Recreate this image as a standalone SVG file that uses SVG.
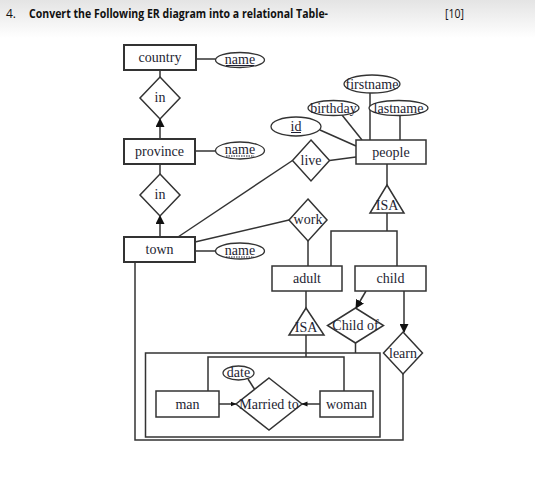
<svg xmlns="http://www.w3.org/2000/svg" width="535" height="484" viewBox="0 0 535 484">
<defs>
<linearGradient id="bg" x1="0" y1="0" x2="0" y2="1">
<stop offset="0" stop-color="#e4e4e4"/>
<stop offset="1" stop-color="#ffffff"/>
</linearGradient>
<marker id="ah" markerUnits="userSpaceOnUse" markerWidth="9" markerHeight="9" refX="8" refY="4.5" orient="auto">
<path d="M0,0 L9,4.5 L0,9 Z" fill="#111"/>
</marker>
<marker id="ahs" markerUnits="userSpaceOnUse" markerWidth="6" markerHeight="6" refX="5.5" refY="3" orient="auto">
<path d="M0,0.5 L6,3 L0,5.5 Z" fill="#111"/>
</marker>
<style>
.box{fill:#fff;stroke:#333;stroke-width:1.5}
.bold{stroke-width:2}
.att{fill:#fff;stroke:#333;stroke-width:1.3}
.rel{fill:#fff;stroke:#333;stroke-width:1.5}
.ln{fill:none;stroke:#333;stroke-width:1.5}
.t{font-family:"Liberation Serif","Times New Roman",serif;font-size:14px;fill:#1e1e32;text-anchor:middle}
.ul{stroke:#1e1e32;stroke-width:1}
.dul{stroke:#1e1e32;stroke-width:1;stroke-dasharray:1.5 1}
.title{font-family:"Open Sans","Liberation Sans",sans-serif;font-size:12px;fill:#111}
</style>
</defs>
<rect x="0" y="0" width="535" height="484" fill="#fff"/>
<rect x="0" y="0" width="535" height="38" fill="url(#bg)"/>
<g id="header">
<text class="title" x="6" y="18">4.</text>
<text class="title" x="29" y="18" font-weight="bold" textLength="299" lengthAdjust="spacingAndGlyphs">Convert the Following ER diagram into a relational Table-</text>
<text class="title" x="445" y="18" textLength="19" lengthAdjust="spacingAndGlyphs">[10]</text>
</g>
<g id="connectors">
<line class="ln" x1="160" y1="70" x2="160" y2="77"/>
<line class="ln" x1="160" y1="139" x2="160" y2="119" marker-end="url(#ah)"/>
<line class="ln" x1="196" y1="59" x2="215.5" y2="59"/>
<line class="ln" x1="195" y1="151" x2="215.5" y2="151"/>
<line class="ln" x1="160" y1="164" x2="160" y2="174"/>
<line class="ln" x1="160" y1="237" x2="160" y2="216" marker-end="url(#ah)"/>
<line class="ln" x1="195" y1="251" x2="215.5" y2="251"/>
<line class="ln" x1="178" y1="237" x2="292.5" y2="160.5"/>
<line class="ln" x1="195" y1="242" x2="289" y2="220"/>
<line class="ln" x1="329.5" y1="160.5" x2="356" y2="157"/>
<line class="ln" x1="320" y1="130" x2="356" y2="146"/>
<line class="ln" x1="342" y1="115" x2="362" y2="140"/>
<line class="ln" x1="370" y1="93" x2="370" y2="140"/>
<line class="ln" x1="400" y1="115.5" x2="400" y2="140"/>
<line class="ln" x1="387" y1="164" x2="387" y2="185"/>
<line class="ln" x1="387" y1="213" x2="387" y2="231"/>
<polyline class="ln" points="331,266 331,231 397,231 397,266"/>
<line class="ln" x1="308" y1="241" x2="308" y2="266"/>
<line class="ln" x1="306" y1="291" x2="306" y2="308"/>
<line class="ln" x1="306" y1="335" x2="306" y2="357"/>
<polyline class="ln" points="208,391 208,357 344,357 344,391"/>
<line class="ln" x1="366" y1="291" x2="356" y2="308" marker-end="url(#ah)"/>
<line class="ln" x1="355.5" y1="343" x2="355.5" y2="353"/>
<line class="ln" x1="404" y1="291" x2="404" y2="332" marker-end="url(#ah)"/>
<polyline class="ln" points="403,374 403,440 135,440 135,262"/>
<line class="ln" x1="219" y1="404" x2="236" y2="404" marker-end="url(#ahs)"/>
<line class="ln" x1="320" y1="404" x2="302" y2="404" marker-end="url(#ahs)"/>
<line class="ln" x1="248" y1="379" x2="255" y2="390"/>
</g>
<g id="aggregation">
<rect x="145.5" y="353" width="234.5" height="84" fill="none" stroke="#333" stroke-width="1.5"/>
</g>
<g id="country">
<rect class="box bold" x="124" y="45" width="72" height="25"/>
<text class="t" x="160" y="62">country</text>
</g>
<g id="country-name">
<ellipse class="att" cx="240" cy="60" rx="24.5" ry="7.5"/>
<text class="t" x="240" y="64">name</text>
<line class="ul" x1="226" y1="65.5" x2="254" y2="65.5"/>
</g>
<g id="in1">
<polygon class="rel bold" points="160,77 180,98 160,119 140,98"/>
<text class="t" x="160" y="102">in</text>
</g>
<g id="province">
<rect class="box bold" x="124" y="139" width="71" height="25"/>
<text class="t" x="159.5" y="156">province</text>
</g>
<g id="province-name">
<ellipse class="att" cx="240" cy="150.5" rx="24.5" ry="8.5"/>
<text class="t" x="240" y="154">name</text>
<line class="dul" x1="226" y1="156" x2="254" y2="156"/>
</g>
<g id="in2">
<polygon class="rel bold" points="160,174 180,195 160,216 140,195"/>
<text class="t" x="160" y="199">in</text>
</g>
<g id="town">
<rect class="box bold" x="124" y="237" width="71" height="25"/>
<text class="t" x="159.5" y="254">town</text>
</g>
<g id="town-name">
<ellipse class="att" cx="240" cy="251" rx="24.5" ry="8"/>
<text class="t" x="240" y="255">name</text>
<line class="dul" x1="226" y1="257" x2="254" y2="257"/>
</g>
<g id="live">
<polygon class="rel" points="311,140 329.5,160.5 311,181 292.5,160.5"/>
<text class="t" x="311" y="165">live</text>
</g>
<g id="id">
<ellipse class="att" cx="296" cy="126.5" rx="25" ry="9.5"/>
<text class="t" x="296" y="130.5">id</text>
<line class="ul" x1="291" y1="132.5" x2="301" y2="132.5"/>
</g>
<g id="birthday">
<ellipse class="att" cx="333.5" cy="108" rx="25.5" ry="7.5"/>
<text class="t" x="333.5" y="112.5">birthday</text>
</g>
<g id="firstname">
<ellipse class="att" cx="372" cy="84" rx="28" ry="9"/>
<text class="t" x="372" y="88.5">firstname</text>
</g>
<g id="lastname">
<ellipse class="att" cx="398.5" cy="108" rx="29.5" ry="7.5"/>
<text class="t" x="398.5" y="112.5">lastname</text>
</g>
<g id="people">
<rect class="box" x="356" y="140" width="70" height="24"/>
<text class="t" x="391" y="157">people</text>
</g>
<g id="isa1">
<polygon class="rel" points="387,185 404,213 370,213"/>
<text class="t" x="387" y="210">ISA</text>
</g>
<g id="work">
<polygon class="rel" points="308,199 327,220 308,241 289,220"/>
<text class="t" x="308" y="224">work</text>
</g>
<g id="adult">
<rect class="box" x="272" y="266" width="70" height="25"/>
<text class="t" x="307" y="283">adult</text>
</g>
<g id="child">
<rect class="box" x="355" y="266" width="71" height="25"/>
<text class="t" x="390.5" y="283">child</text>
</g>
<g id="isa2">
<polygon class="rel" points="306,308 324,335 289,335"/>
<text class="t" x="306" y="332">ISA</text>
</g>
<g id="childof">
<polygon class="rel" points="355.5,308 383.5,325.5 355.5,343 327.5,325.5"/>
<text class="t" x="355.5" y="330">Child of</text>
</g>
<g id="learn">
<polygon class="rel" points="403,332 422.5,353 403,374 383.5,353"/>
<text class="t" x="403" y="357.5">learn</text>
</g>
<g id="man">
<rect class="box" x="156" y="391" width="63" height="26"/>
<text class="t" x="187.5" y="408.5">man</text>
</g>
<g id="woman">
<rect class="box" x="320" y="391" width="53" height="26"/>
<text class="t" x="346.5" y="408.5">woman</text>
</g>
<g id="married">
<polygon class="rel" points="269,378 302,404 269,430 236,404"/>
<text class="t" x="269" y="408.5">Married to</text>
</g>
<g id="date">
<ellipse class="att" cx="238.5" cy="373" rx="15.5" ry="7"/>
<text class="t" x="238.5" y="377">date</text>
</g>
</svg>
